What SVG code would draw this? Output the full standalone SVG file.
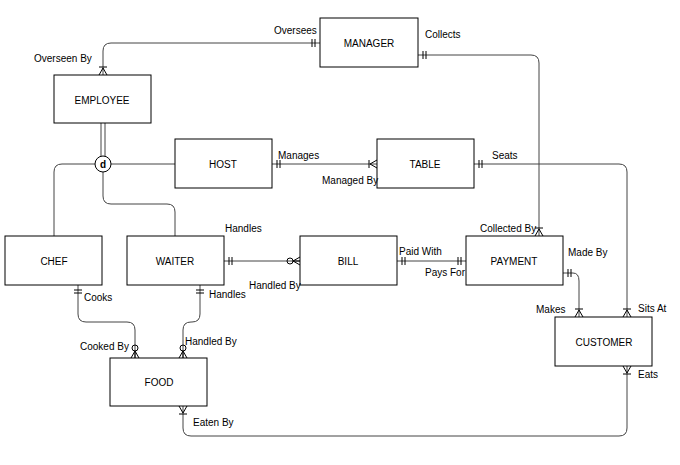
<svg xmlns="http://www.w3.org/2000/svg" width="680" height="465" viewBox="0 0 680 465">
<style>
.n rect{fill:#fff;stroke:#000;stroke-width:1}
.n text{font-family:"Liberation Sans",Arial,sans-serif;font-size:10px;text-anchor:middle;dominant-baseline:central}
.c path{fill:none;stroke:#444;stroke-width:1}
.l{font-family:"Liberation Sans",Arial,sans-serif;font-size:10px;fill:#000}
.m{fill:none;stroke:#000;stroke-width:1}
</style>
<defs>
<marker id="one" viewBox="-15 -6 16 12" refX="0" refY="0" markerWidth="16" markerHeight="12" markerUnits="userSpaceOnUse" orient="auto-start-reverse"><path class="m" d="M-5,-4V4M-8,-4V4"/></marker>
<marker id="many" viewBox="-15 -6 16 12" refX="0" refY="0" markerWidth="16" markerHeight="12" markerUnits="userSpaceOnUse" orient="auto-start-reverse"><path class="m" d="M0,-4L-7,0L0,4M-8,-4V4"/></marker>
<marker id="zmany" viewBox="-15 -6 16 12" refX="0" refY="0" markerWidth="16" markerHeight="12" markerUnits="userSpaceOnUse" orient="auto-start-reverse"><path class="m" d="M0,-4L-7,0L0,4M-7,0H0"/><circle class="m" cx="-10" cy="0" r="3" fill="#fff"/></marker>
</defs>
<g class="c">
<path d="M320,43H111Q103,43 103,51V75" marker-start="url(#one)" marker-end="url(#many)"/>
<path d="M418,55H531Q539,55 539,63V236" marker-start="url(#one)" marker-end="url(#many)"/>
<path d="M101,123V156M105,123V156"/>
<path d="M95,164H62Q54,164 54,172V236"/>
<path d="M111,164H175"/>
<path d="M103,172V196Q103,204 111,204H167Q175,204 175,212V236"/>
<path d="M272,164H377" marker-start="url(#one)" marker-end="url(#many)"/>
<path d="M474,164H619Q627,164 627,172V317" marker-start="url(#one)" marker-end="url(#many)"/>
<path d="M224,261H300" marker-start="url(#one)" marker-end="url(#zmany)"/>
<path d="M397,261H466" marker-start="url(#one)" marker-end="url(#one)"/>
<path d="M563,273H573Q579,273 579,281V317" marker-start="url(#one)" marker-end="url(#many)"/>
<path d="M78,285V314Q78,322 86,322H127Q135,322 135,330V358" marker-start="url(#one)" marker-end="url(#zmany)"/>
<path d="M200,285V314Q200,322 192,322H191Q183,322 183,330V358" marker-start="url(#one)" marker-end="url(#zmany)"/>
<path d="M183,406V428Q183,436 191,436H619Q627,436 627,428V366" marker-start="url(#many)" marker-end="url(#many)"/>
</g>
<circle cx="103" cy="164" r="8" fill="#fff" stroke="#000"/>
<text x="103" y="167.5" class="l" text-anchor="middle" font-weight="bold">d</text>
<g id="manager" class="n"><rect x="320" y="18" width="98" height="49"/><text x="369" y="43">MANAGER</text></g>
<g id="employee" class="n"><rect x="54" y="75" width="97" height="48"/><text x="102" y="100">EMPLOYEE</text></g>
<g id="host" class="n"><rect x="175" y="139" width="97" height="49"/><text x="223" y="164">HOST</text></g>
<g id="table" class="n"><rect x="377" y="139" width="97" height="49"/><text x="425" y="164">TABLE</text></g>
<g id="chef" class="n"><rect x="5" y="236" width="97" height="49"/><text x="54" y="261">CHEF</text></g>
<g id="waiter" class="n"><rect x="127" y="236" width="97" height="49"/><text x="175" y="261">WAITER</text></g>
<g id="bill" class="n"><rect x="300" y="236" width="97" height="49"/><text x="348" y="261">BILL</text></g>
<g id="payment" class="n"><rect x="466" y="236" width="97" height="49"/><text x="514" y="261">PAYMENT</text></g>
<g id="customer" class="n"><rect x="555" y="317" width="97" height="49"/><text x="604" y="342">CUSTOMER</text></g>
<g id="food" class="n"><rect x="110" y="358" width="97" height="48"/><text x="159" y="382">FOOD</text></g>
<g>
<text class="l" x="34" y="62">Overseen By</text>
<text class="l" x="274" y="34">Oversees</text>
<text class="l" x="425" y="38">Collects</text>
<text class="l" x="278" y="159">Manages</text>
<text class="l" x="322" y="184">Managed By</text>
<text class="l" x="492" y="159">Seats</text>
<text class="l" x="225" y="232">Handles</text>
<text class="l" x="480" y="232">Collected By</text>
<text class="l" x="568" y="256">Made By</text>
<text class="l" x="399" y="255">Paid With</text>
<text class="l" x="425" y="276">Pays For</text>
<text class="l" x="249" y="289">Handled By</text>
<text class="l" x="84" y="301">Cooks</text>
<text class="l" x="209" y="298">Handles</text>
<text class="l" x="80" y="350">Cooked By</text>
<text class="l" x="185" y="345">Handled By</text>
<text class="l" x="536" y="313">Makes</text>
<text class="l" x="638" y="312">Sits At</text>
<text class="l" x="638" y="378">Eats</text>
<text class="l" x="193" y="426">Eaten By</text>
</g>
</svg>
